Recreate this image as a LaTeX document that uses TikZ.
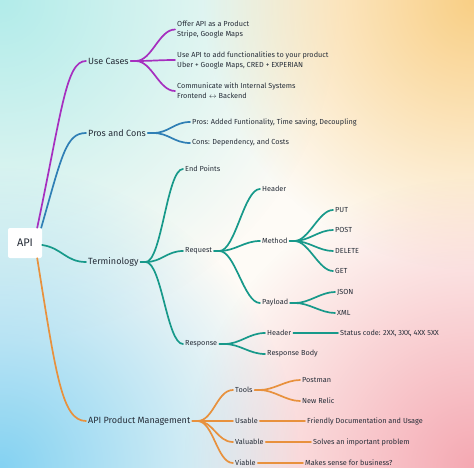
\documentclass[tikz,border=0pt]{standalone}
\usepackage{fontspec}
\setmainfont{Fira Sans}
\usetikzlibrary{fadings}
\definecolor{cpurple}{HTML}{A62FBF}
\definecolor{cblue}{HTML}{2F7FB5}
\definecolor{cteal}{HTML}{17998A}
\definecolor{corange}{HTML}{E8913D}
\definecolor{ctext}{HTML}{262D38}
\definecolor{bgcenter}{HTML}{FEFBF6}
\definecolor{bgtl}{HTML}{B2ECEA}
\definecolor{bgtr}{HTML}{F9CF85}
\definecolor{bgbr}{HTML}{F5A8B2}
\definecolor{bgbl}{HTML}{84D2F2}
\tikzfading[name=cornerfade, inner color=transparent!0, outer color=transparent!100]
\begin{document}
\begin{tikzpicture}[x=1pt,y={(0pt,-1pt)},
  top/.style={anchor=west, text=ctext, font=\fontsize{9}{10}\selectfont, inner sep=2pt},
  sub/.style={anchor=west, text=ctext, font=\fontsize{7.3}{10}\selectfont, inner sep=2pt, align=left},
  link/.style={line width=1.7pt, line cap=round},
  br/.style={to path={-- ++(5,0) .. controls +(#1,0) and +(-#1,0) .. (\tikztotarget)}},
  br/.default=16]
\useasboundingbox (0,0) rectangle (474,468);
\begin{scope}
  \clip (0,0) rectangle (474,468);
  \fill[bgcenter] (0,0) rectangle (474,468);
  \fill[bgtl, path fading=cornerfade] (0,0) circle (340);
  \fill[bgtr, path fading=cornerfade] (474,0) circle (270);
  \fill[bgbr, path fading=cornerfade] (474,468) circle (290);
  \fill[bgbl, path fading=cornerfade] (0,468) circle (300);
\end{scope}

% root
\node[fill=white, rounded corners=2pt, minimum width=34pt, minimum height=30pt, text=ctext,
      font=\fontsize{11}{12}\selectfont] (api) at (25,243) {API};

% top level
\node[top] (usecases) at (86,61) {Use Cases};
\node[top] (proscons) at (86,133) {Pros and Cons};
\node[top] (termin) at (86,262) {Terminology};
\node[top] (apm) at (86,421) {API Product Management};

\draw[link, cpurple] ([xshift=-5pt]api.north east) .. controls (62,110) and (66,61) .. (usecases.west);
\draw[link, cblue] ([xshift=-1pt]api.north east) .. controls (62,155) and (66,133) .. (proscons.west);
\draw[link, cteal] ([yshift=-2pt]api.east) .. controls (62,248) and (66,262) .. (termin.west);
\draw[link, corange] ([xshift=-5pt]api.south east) .. controls (56,375) and (62,421) .. (apm.west);

% use cases
\node[sub] (uc1) at (175,29.5) {Offer API as a Product\\Stripe, Google Maps};
\node[sub] (uc2) at (175,60) {Use API to add functionalities to your product\\Uber + Google Maps, CRED + EXPERIAN};
\node[sub] (uc3) at (175,91) {Communicate with Internal Systems\\Frontend \(\leftrightarrow\) Backend};
\foreach \c in {uc1,uc2,uc3} \draw[link, cpurple] (usecases.east) to[br] (\c.west);

% pros and cons
\node[sub] (pros) at (190,122) {Pros: Added Funtionality, Time saving, Decoupling};
\node[sub] (cons) at (190,143) {Cons: Dependency, and Costs};
\foreach \c in {pros,cons} \draw[link, cblue] (proscons.east) to[br] (\c.west);

% terminology
\node[sub] (endp) at (183,169) {End Points};
\node[sub] (request) at (183,251) {Request};
\node[sub] (response) at (183,344) {Response};
\foreach \c in {endp,request,response} \draw[link, cteal] (termin.east) to[br] (\c.west);

\node[sub] (rqheader) at (260,189) {Header};
\node[sub] (method) at (260,241) {Method};
\node[sub] (payload) at (260,303) {Payload};
\foreach \c in {rqheader,method,payload} \draw[link, cteal] (request.east) to[br] (\c.west);

\node[sub] (put) at (333,210) {PUT};
\node[sub] (post) at (333,230) {POST};
\node[sub] (delete) at (333,251) {DELETE};
\node[sub] (get) at (333,271) {GET};
\foreach \c in {put,post,delete,get} \draw[link, cteal] (method.east) to[br=14] (\c.west);

\node[sub] (json) at (335,292) {JSON};
\node[sub] (xml) at (335,313) {XML};
\foreach \c in {json,xml} \draw[link, cteal] (payload.east) to[br=14] (\c.west);

\node[sub] (rsheader) at (265,333) {Header};
\node[sub] (rsbody) at (265,354) {Response Body};
\foreach \c in {rsheader,rsbody} \draw[link, cteal] (response.east) to[br] (\c.west);
\node[sub] (status) at (338,333) {Status code: 2XX, 3XX, 4XX 5XX};
\draw[link, cteal] (rsheader.east) to[br] (status.west);

% API product management
\node[sub] (tools) at (233,390) {Tools};
\node[sub] (usable) at (233,421) {Usable};
\node[sub] (valuable) at (233,442) {Valuable};
\node[sub] (viable) at (233,463) {Viable};
\foreach \c in {tools,usable,valuable,viable} \draw[link, corange] (apm.east) to[br] (\c.west);

\node[sub] (postman) at (300,380) {Postman};
\node[sub] (newrelic) at (300,401) {New Relic};
\foreach \c in {postman,newrelic} \draw[link, corange] (tools.east) to[br=14] (\c.west);

\node[sub] (friendly) at (305,421) {Friendly Documentation and Usage};
\node[sub] (solves) at (311,442) {Solves an important problem};
\node[sub] (makes) at (303,463) {Makes sense for business?};
\draw[link, corange] (usable.east) to[br] (friendly.west);
\draw[link, corange] (valuable.east) to[br] (solves.west);
\draw[link, corange] (viable.east) to[br] (makes.west);
\end{tikzpicture}
\end{document}
